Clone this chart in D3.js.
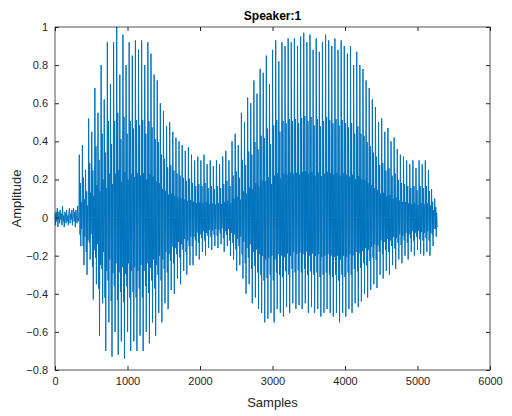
<!DOCTYPE html><html><head><meta charset="utf-8">
<script src="https://cdn.jsdelivr.net/npm/d3@7"></script>
<style>body{margin:0;background:#fff}text{font-family:"Liberation Sans",Arial,sans-serif}</style></head><body>
<script>
const xTicks=[0,1000,2000,3000,4000,5000,6000];
const yTicks=[-0.8,-0.6,-0.4,-0.2,0,0.2,0.4,0.6,0.8,1];
const noise=[0.02,-0.04,0.03,-0.02,0.05,-0.05,0.01,0.03,-0.03,0.04,-0.01,0.02,-0.04,0.06,-0.02,0.01,-0.05,0.03,0.02,-0.03,0.04,-0.02,0.01,-0.04,0.03,0.05,-0.03,0.02,-0.01,0.04,-0.04,0.02,0.05,-0.02,0.03,-0.05,0.04,0.01,-0.03,0.06,-0.02,0.0];
const noiseStep=8;
const cycleStart=330, period=43;
const cycleMax=[0.33,0.38,0.25,0.52,0.45,0.68,0.55,0.8,0.62,0.92,
0.7,0.92,1.0,0.75,0.96,0.8,0.92,0.85,0.93,0.88,
0.93,0.8,0.92,0.86,0.75,0.72,0.6,0.56,0.48,0.5,
0.45,0.42,0.4,0.38,0.35,0.37,0.33,0.3,0.32,0.3,
0.33,0.28,0.3,0.27,0.3,0.28,0.32,0.35,0.3,0.4,
0.44,0.38,0.55,0.5,0.63,0.6,0.72,0.65,0.78,0.76,
0.85,0.7,0.88,0.93,0.82,0.92,0.9,0.94,0.92,0.94,
0.9,0.95,0.97,0.92,0.96,0.88,0.94,0.87,0.92,0.96,
0.93,0.9,0.94,0.88,0.93,0.9,0.86,0.9,0.8,0.87,
0.8,0.78,0.72,0.68,0.62,0.58,0.5,0.52,0.45,0.47,
0.4,0.42,0.36,0.33,0.32,0.3,0.28,0.3,0.26,0.3,
0.28,0.3,0.25,0.15,0.1];
const cycleMin=[-0.15,-0.25,-0.3,-0.22,-0.43,-0.35,-0.62,-0.45,-0.7,-0.55,
-0.73,-0.6,-0.72,-0.65,-0.74,-0.6,-0.7,-0.65,-0.7,-0.62,
-0.7,-0.6,-0.66,-0.55,-0.62,-0.5,-0.55,-0.45,-0.48,-0.38,
-0.4,-0.32,-0.35,-0.28,-0.3,-0.25,-0.25,-0.2,-0.22,-0.18,
-0.2,-0.16,-0.17,-0.15,-0.16,-0.14,-0.18,-0.15,-0.2,-0.22,
-0.28,-0.25,-0.32,-0.4,-0.35,-0.45,-0.42,-0.48,-0.5,-0.55,
-0.53,-0.5,-0.55,-0.48,-0.5,-0.52,-0.47,-0.5,-0.45,-0.48,
-0.46,-0.48,-0.45,-0.5,-0.47,-0.5,-0.48,-0.52,-0.5,-0.48,
-0.5,-0.52,-0.5,-0.55,-0.5,-0.52,-0.48,-0.5,-0.45,-0.47,
-0.44,-0.4,-0.42,-0.38,-0.35,-0.37,-0.3,-0.32,-0.28,-0.3,
-0.25,-0.27,-0.22,-0.24,-0.2,-0.22,-0.18,-0.2,-0.17,-0.19,
-0.2,-0.18,-0.2,-0.15,-0.1];
// within-cycle shape: [sample offset, which envelope, fraction]
const shape=[[0,'z',0],[5,'max',1],[10,'max',0.3],[15,'min',0.6],[20,'max',0.55],[26,'min',1],[32,'max',0.25],[38,'min',0.4]];

const pts=noise.map((v,i)=>[i*noiseStep,v]);
cycleMax.forEach((mx,i)=>{const mn=cycleMin[i];const s=cycleStart+i*period;
 shape.forEach(([o,k,f])=>pts.push([s+o,k==='z'?0:(k==='max'?mx*f:mn*f)]));});
pts.push([cycleStart+cycleMax.length*period,-0.05]);

const W=512,H=416,L=55,R=490,T=27,B=370;
const svg=d3.select('body').append('svg').attr('width',W).attr('height',H);
const x=d3.scaleLinear().domain([0,6000]).range([L,R]);
const y=d3.scaleLinear().domain([-0.8,1]).range([B,T]);
svg.append('path').datum(pts).attr('d',d3.line().x(d=>x(d[0])).y(d=>y(d[1]))).attr('fill','none').attr('stroke','#0072BD').attr('stroke-width',1);
const ax=(g,a)=>{g.call(a);g.select('.domain').remove();g.selectAll('line').attr('stroke','#262626');g.selectAll('text').attr('fill','#262626').style('font-size','11px');};
svg.append('g').attr('transform',`translate(0,${B})`).call(g=>ax(g,d3.axisBottom(x).tickValues(xTicks).tickSizeInner(-4).tickSizeOuter(0).tickPadding(7).tickFormat(d3.format('d'))));
svg.append('g').attr('transform',`translate(0,${T})`).call(g=>ax(g,d3.axisTop(x).tickValues(xTicks).tickSizeInner(-4).tickSizeOuter(0).tickFormat('')));
svg.append('g').attr('transform',`translate(${L},0)`).call(g=>ax(g,d3.axisLeft(y).tickValues(yTicks).tickSizeInner(-4).tickSizeOuter(0).tickPadding(7).tickFormat(d=>d3.format('')(+d.toFixed(1)))));
svg.append('g').attr('transform',`translate(${R},0)`).call(g=>ax(g,d3.axisRight(y).tickValues(yTicks).tickSizeInner(-4).tickSizeOuter(0).tickFormat('')));
svg.append('rect').attr('x',L).attr('y',T).attr('width',R-L).attr('height',B-T).attr('fill','none').attr('stroke','#262626').attr('stroke-width',0.8);
svg.append('text').attr('x',(L+R)/2).attr('y',20).attr('text-anchor','middle').style('font-size','12px').style('font-weight','bold').attr('fill','#000').text('Speaker:1');
svg.append('text').attr('x',(L+R)/2).attr('y',407).attr('text-anchor','middle').style('font-size','13px').attr('fill','#262626').text('Samples');
svg.append('text').attr('transform',`translate(21,${(T+B)/2}) rotate(-90)`).attr('text-anchor','middle').style('font-size','13px').attr('fill','#262626').text('Amplitude');
</script></body></html>
